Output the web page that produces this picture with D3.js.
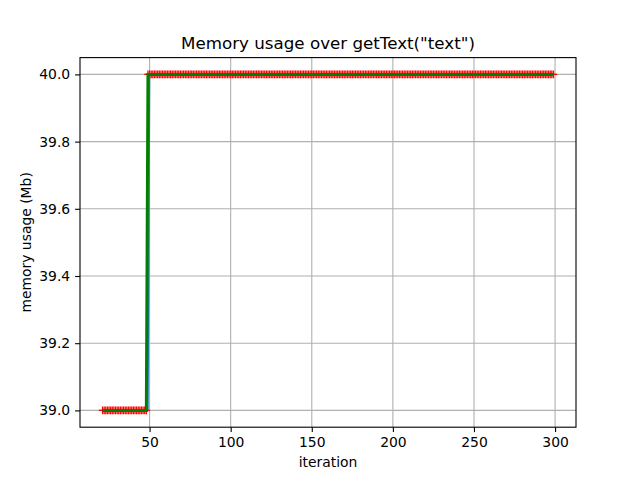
<!DOCTYPE html>
<html>
<head>
<meta charset="utf-8">
<script src="https://cdn.jsdelivr.net/npm/d3@7/dist/d3.min.js"></script>
<style>
html,body{margin:0;padding:0;background:#fff;}
svg{display:block;}
text{font-family:"DejaVu Sans",sans-serif;fill:#000;}
</style>
</head>
<body>
<svg id="chart" width="640" height="480"></svg>
<script>
// ---- data ----
const titleText = 'Memory usage over getText("text")';
const xLabel = "iteration";
const yLabel = "memory usage (Mb)";
const xTicks = [50, 100, 150, 200, 250, 300];
const yTicks = [39.0, 39.2, 39.4, 39.6, 39.8, 40.0];

const iterations = [
21,22,23,24,25,26,27,28,29,30,
31,32,33,34,35,36,37,38,39,40,
41,42,43,44,45,46,47,48,49,50,
51,52,53,54,55,56,57,58,59,60,
61,62,63,64,65,66,67,68,69,70,
71,72,73,74,75,76,77,78,79,80,
81,82,83,84,85,86,87,88,89,90,
91,92,93,94,95,96,97,98,99,100,
101,102,103,104,105,106,107,108,109,110,
111,112,113,114,115,116,117,118,119,120,
121,122,123,124,125,126,127,128,129,130,
131,132,133,134,135,136,137,138,139,140,
141,142,143,144,145,146,147,148,149,150,
151,152,153,154,155,156,157,158,159,160,
161,162,163,164,165,166,167,168,169,170,
171,172,173,174,175,176,177,178,179,180,
181,182,183,184,185,186,187,188,189,190,
191,192,193,194,195,196,197,198,199,200,
201,202,203,204,205,206,207,208,209,210,
211,212,213,214,215,216,217,218,219,220,
221,222,223,224,225,226,227,228,229,230,
231,232,233,234,235,236,237,238,239,240,
241,242,243,244,245,246,247,248,249,250,
251,252,253,254,255,256,257,258,259,260,
261,262,263,264,265,266,267,268,269,270,
271,272,273,274,275,276,277,278,279,280,
281,282,283,284,285,286,287,288,289,290,
291,292,293,294,295,296,297,298,299
];

// measured memory (green line + red markers)
const memMeasured = [
39,39,39,39,39,39,39,39,39,39,
39,39,39,39,39,39,39,39,39,39,
39,39,39,39,39,39,39,39,40,40,
40,40,40,40,40,40,40,40,40,40,
40,40,40,40,40,40,40,40,40,40,
40,40,40,40,40,40,40,40,40,40,
40,40,40,40,40,40,40,40,40,40,
40,40,40,40,40,40,40,40,40,40,
40,40,40,40,40,40,40,40,40,40,
40,40,40,40,40,40,40,40,40,40,
40,40,40,40,40,40,40,40,40,40,
40,40,40,40,40,40,40,40,40,40,
40,40,40,40,40,40,40,40,40,40,
40,40,40,40,40,40,40,40,40,40,
40,40,40,40,40,40,40,40,40,40,
40,40,40,40,40,40,40,40,40,40,
40,40,40,40,40,40,40,40,40,40,
40,40,40,40,40,40,40,40,40,40,
40,40,40,40,40,40,40,40,40,40,
40,40,40,40,40,40,40,40,40,40,
40,40,40,40,40,40,40,40,40,40,
40,40,40,40,40,40,40,40,40,40,
40,40,40,40,40,40,40,40,40,40,
40,40,40,40,40,40,40,40,40,40,
40,40,40,40,40,40,40,40,40,40,
40,40,40,40,40,40,40,40,40,40,
40,40,40,40,40,40,40,40,40,40,
40,40,40,40,40,40,40,40,40
];

// raw memory trace (blue line), one iteration later
const memRaw = [
39,39,39,39,39,39,39,39,39,39,
39,39,39,39,39,39,39,39,39,39,
39,39,39,39,39,39,39,39,39,40,
40,40,40,40,40,40,40,40,40,40,
40,40,40,40,40,40,40,40,40,40,
40,40,40,40,40,40,40,40,40,40,
40,40,40,40,40,40,40,40,40,40,
40,40,40,40,40,40,40,40,40,40,
40,40,40,40,40,40,40,40,40,40,
40,40,40,40,40,40,40,40,40,40,
40,40,40,40,40,40,40,40,40,40,
40,40,40,40,40,40,40,40,40,40,
40,40,40,40,40,40,40,40,40,40,
40,40,40,40,40,40,40,40,40,40,
40,40,40,40,40,40,40,40,40,40,
40,40,40,40,40,40,40,40,40,40,
40,40,40,40,40,40,40,40,40,40,
40,40,40,40,40,40,40,40,40,40,
40,40,40,40,40,40,40,40,40,40,
40,40,40,40,40,40,40,40,40,40,
40,40,40,40,40,40,40,40,40,40,
40,40,40,40,40,40,40,40,40,40,
40,40,40,40,40,40,40,40,40,40,
40,40,40,40,40,40,40,40,40,40,
40,40,40,40,40,40,40,40,40,40,
40,40,40,40,40,40,40,40,40,40,
40,40,40,40,40,40,40,40,40,40,
40,40,40,40,40,40,40,40,40
];

// ---- layout ----
const W = 640, H = 480;
const m = {left: 80, right: 576, top: 57.6, bottom: 427.2};
const svg = d3.select("#chart");
svg.append("rect").attr("width", W).attr("height", H).attr("fill", "#fff");

const xMin = d3.min(iterations), xMax = d3.max(iterations);
const xPad = (xMax - xMin) * 0.05;
const x = d3.scaleLinear().domain([xMin - xPad, xMax + xPad]).range([m.left, m.right]);
const yPad = (40 - 39) * 0.05;
const y = d3.scaleLinear().domain([39 - yPad, 40 + yPad]).range([m.bottom, m.top]);

// grid
const grid = svg.append("g");
xTicks.forEach(t => grid.append("line")
  .attr("x1", x(t)).attr("x2", x(t)).attr("y1", m.top).attr("y2", m.bottom)
  .attr("stroke", "#b0b0b0").attr("stroke-width", 1.1));
yTicks.forEach(t => grid.append("line")
  .attr("x1", m.left).attr("x2", m.right).attr("y1", y(t)).attr("y2", y(t))
  .attr("stroke", "#b0b0b0").attr("stroke-width", 1.1));

const clip = svg.append("clipPath").attr("id", "clip").append("rect")
  .attr("x", m.left).attr("y", m.top).attr("width", m.right - m.left).attr("height", m.bottom - m.top);
const plot = svg.append("g").attr("clip-path", "url(#clip)");

const line = d3.line().x(d => x(d[0])).y(d => y(d[1]));

// blue raw line
plot.append("path")
  .datum(iterations.map((it, i) => [it, memRaw[i]]))
  .attr("d", line).attr("fill", "none").attr("stroke", "#1f77b4").attr("stroke-width", 1.5);

// red + markers
const ms = 3.8;
const mk = plot.append("g");
iterations.forEach((it, i) => {
  const cx = x(it), cy = y(memMeasured[i]);
  mk.append("path")
    .attr("d", `M${cx - ms},${cy}H${cx + ms}M${cx},${cy - ms}V${cy + ms}`)
    .attr("stroke", "#ff0000").attr("stroke-width", 1.3).attr("fill", "none");
});

// green line
plot.append("path")
  .datum(iterations.map((it, i) => [it, memMeasured[i]]))
  .attr("d", line).attr("fill", "none").attr("stroke", "#008000").attr("stroke-width", 3);

// axes
const xAxis = d3.axisBottom(x).tickValues(xTicks).tickFormat(d3.format("d")).tickSizeInner(4.9).tickSizeOuter(0).tickPadding(4.9);
const yAxis = d3.axisLeft(y).tickValues(yTicks).tickFormat(d3.format(".1f")).tickSizeInner(4.9).tickSizeOuter(0).tickPadding(4.9);

const gx = svg.append("g").attr("transform", `translate(0,${m.bottom})`).call(xAxis);
const gy = svg.append("g").attr("transform", `translate(${m.left},0)`).call(yAxis);
[gx, gy].forEach(g => {
  g.select(".domain").remove();
  g.selectAll(".tick line").attr("stroke", "#000").attr("stroke-width", 1.1);
  g.selectAll(".tick text").attr("font-size", "13.9px").attr("font-family", "DejaVu Sans").attr("fill", "#000");
});

// spines
svg.append("rect")
  .attr("x", m.left).attr("y", m.top).attr("width", m.right - m.left).attr("height", m.bottom - m.top)
  .attr("fill", "none").attr("stroke", "#000").attr("stroke-width", 1.1);

// title & labels
svg.append("text").attr("x", (m.left + m.right) / 2).attr("y", 49)
  .attr("text-anchor", "middle").attr("font-size", "16.7px").text(titleText);
svg.append("text").attr("x", (m.left + m.right) / 2).attr("y", 467)
  .attr("text-anchor", "middle").attr("font-size", "13.9px").text(xLabel);
svg.append("text").attr("transform", `translate(31,${(m.top + m.bottom) / 2}) rotate(-90)`)
  .attr("text-anchor", "middle").attr("font-size", "13.9px").text(yLabel);
</script>
</body>
</html>
